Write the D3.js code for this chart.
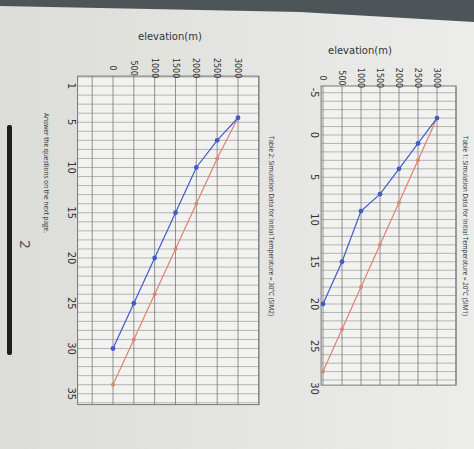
<!DOCTYPE html>
<html><head><meta charset="utf-8">
<script src="https://cdn.jsdelivr.net/npm/d3@7"></script>
<style>body{margin:0;background:#e6e6e3}</style>
</head><body>
<script>
// SIM1 (table 1)
const sim1Elev = [3000, 2500, 2000, 1500, 1000, 500, 0];
const sim1Blue = [-2, 1, 4, 7, 9, 15, 20];
const sim1Red = [-2, 3, 8, 13, 18, 23, 28];
const sim1TempTicks = ["-5", "0", "5", "10", "15", "20", "25", "30"];
const sim1TempVals = [-5, 0, 5, 10, 15, 20, 25, 30];
const sim1ElevTicks = ["0", "500", "1000", "1500", "2000", "2500", "3000"];
// SIM2 (table 2)
const sim2Elev = [3000, 2500, 2000, 1500, 1000, 500, 0];
const sim2Blue = [4.5, 7, 10, 15, 20, 25, 30];
const sim2Red = [4.5, 9, 14, 19, 24, 29, 34];
const sim2TempTicks = ["1", "5", "10", "15", "20", "25", "30", "35"];
const sim2TempVals = [1, 5, 10, 15, 20, 25, 30, 35];
const sim2ElevTicks = ["0", "500", "1000", "1500", "2000", "2500", "3000"];

const W = 474, H = 449;
const svg = d3.select('body').append('svg').attr('width', W).attr('height', H);

const grad = svg.append('defs').append('linearGradient').attr('id', 'pg')
  .attr('x1', 0).attr('x2', 1).attr('y1', 0).attr('y2', 0);
grad.append('stop').attr('offset', 0).attr('stop-color', '#dcdcd9');
grad.append('stop').attr('offset', 1).attr('stop-color', '#ececea');
svg.append('rect').attr('width', W).attr('height', H).attr('fill', 'url(#pg)');
svg.append('polygon').attr('points', '0,0 474,0 474,22 300,12 0,6').attr('fill', '#4d5559');
svg.append('rect').attr('x', 7).attr('y', 125).attr('width', 5).attr('height', 230)
  .attr('rx', 2).attr('fill', '#1e1e1e');

function chart(o) {
  const x = d3.scaleLinear().domain([0, 3000]).range(o.xr);
  const y = d3.scaleLinear().domain([0, 20]).range(o.yr);
  const g = svg.append('g');
  const [e0, e1] = o.eDom, [t0, t1] = o.tDom;
  g.append('rect').attr('x', x(e0)).attr('y', y(t0)).attr('width', x(e1) - x(e0))
    .attr('height', y(t1) - y(t0)).attr('fill', '#f2f2f0').attr('stroke', '#777');
  g.selectAll('.h').data(d3.range(Math.ceil(t0), t1 + 0.01, 1)).enter().append('line')
    .attr('x1', x(e0)).attr('x2', x(e1)).attr('y1', d => y(d)).attr('y2', d => y(d))
    .attr('stroke', '#8a8a8a').attr('stroke-width', 0.6);
  g.selectAll('.v').data(d3.range(Math.ceil(e0 / 500) * 500, e1 + 1, 500)).enter().append('line')
    .attr('y1', y(t0)).attr('y2', y(t1)).attr('x1', d => x(d)).attr('x2', d => x(d))
    .attr('stroke', '#777').attr('stroke-width', 0.8);
  [[o.red, '#e0836f'], [o.blue, '#3f5cc8']].forEach(([t, c]) => {
    const pts = o.elev.map((e, i) => [x(e), y(t[i])]);
    g.append('path').attr('d', d3.line()(pts)).attr('fill', 'none').attr('stroke', c).attr('stroke-width', 1.2);
    g.selectAll(null).data(pts).enter().append('circle')
      .attr('cx', d => d[0]).attr('cy', d => d[1]).attr('r', c === '#3f5cc8' ? 2.4 : 2).attr('fill', c);
  });
  const hand = "'Comic Sans MS', 'DejaVu Sans', sans-serif";
  o.eTicks.forEach((t, i) => g.append('text')
    .attr('transform', `translate(${x(+t) - 3},${y(t0) - 8}) rotate(90)`)
    .attr('text-anchor', 'middle').attr('font-size', 8).attr('font-family', hand)
    .attr('fill', '#333').text(t));
  o.tTicks.forEach((t, i) => g.append('text')
    .attr('transform', `translate(${x(e0) - 10},${y(o.tVals[i])}) rotate(90)`)
    .attr('text-anchor', 'middle').attr('font-size', 10).attr('font-family', hand)
    .attr('fill', '#333').text(t));
  g.append('text').attr('x', o.lab[0]).attr('y', o.lab[1]).attr('font-size', 10)
    .attr('font-family', hand).attr('fill', '#333').text('elevation(m)');
  g.append('text').attr('transform', `translate(${o.title[0]},${o.title[1]}) rotate(90)`)
    .attr('font-size', 6.3).attr('font-family', 'Open Sans, sans-serif').attr('fill', '#333').text(o.titleText);
}

chart({ xr: [323, 437], yr: [135, 304], eDom: [-50, 3500], tDom: [-5.8, 29.6],
  elev: sim1Elev, blue: sim1Blue, red: sim1Red, eTicks: sim1ElevTicks,
  tTicks: sim1TempTicks, tVals: sim1TempVals, lab: [328, 54], title: [463, 136],
  titleText: 'Table 1: Simulation Data for Initial Temperature = 20°C (SIM1)' });
chart({ xr: [113, 238], yr: [77, 258], eDom: [-850, 3500], tDom: [-0.1, 36.2],
  elev: sim2Elev, blue: sim2Blue, red: sim2Red, eTicks: sim2ElevTicks,
  tTicks: sim2TempTicks, tVals: sim2TempVals, lab: [138, 40], title: [269, 136],
  titleText: 'Table 2: Simulation Data for Initial Temperature = 30°C (SIM2)' });

svg.append('text').attr('transform', 'translate(44,113) rotate(90)').attr('font-size', 6.5)
  .attr('font-family', 'Open Sans, sans-serif').attr('fill', '#333').text('Answer the questions on the next page.');
svg.append('text').attr('transform', 'translate(20,240) rotate(90)').attr('font-size', 14)
  .attr('font-family', 'DejaVu Sans, sans-serif').attr('fill', '#555').text('2');
</script>
</body></html>
